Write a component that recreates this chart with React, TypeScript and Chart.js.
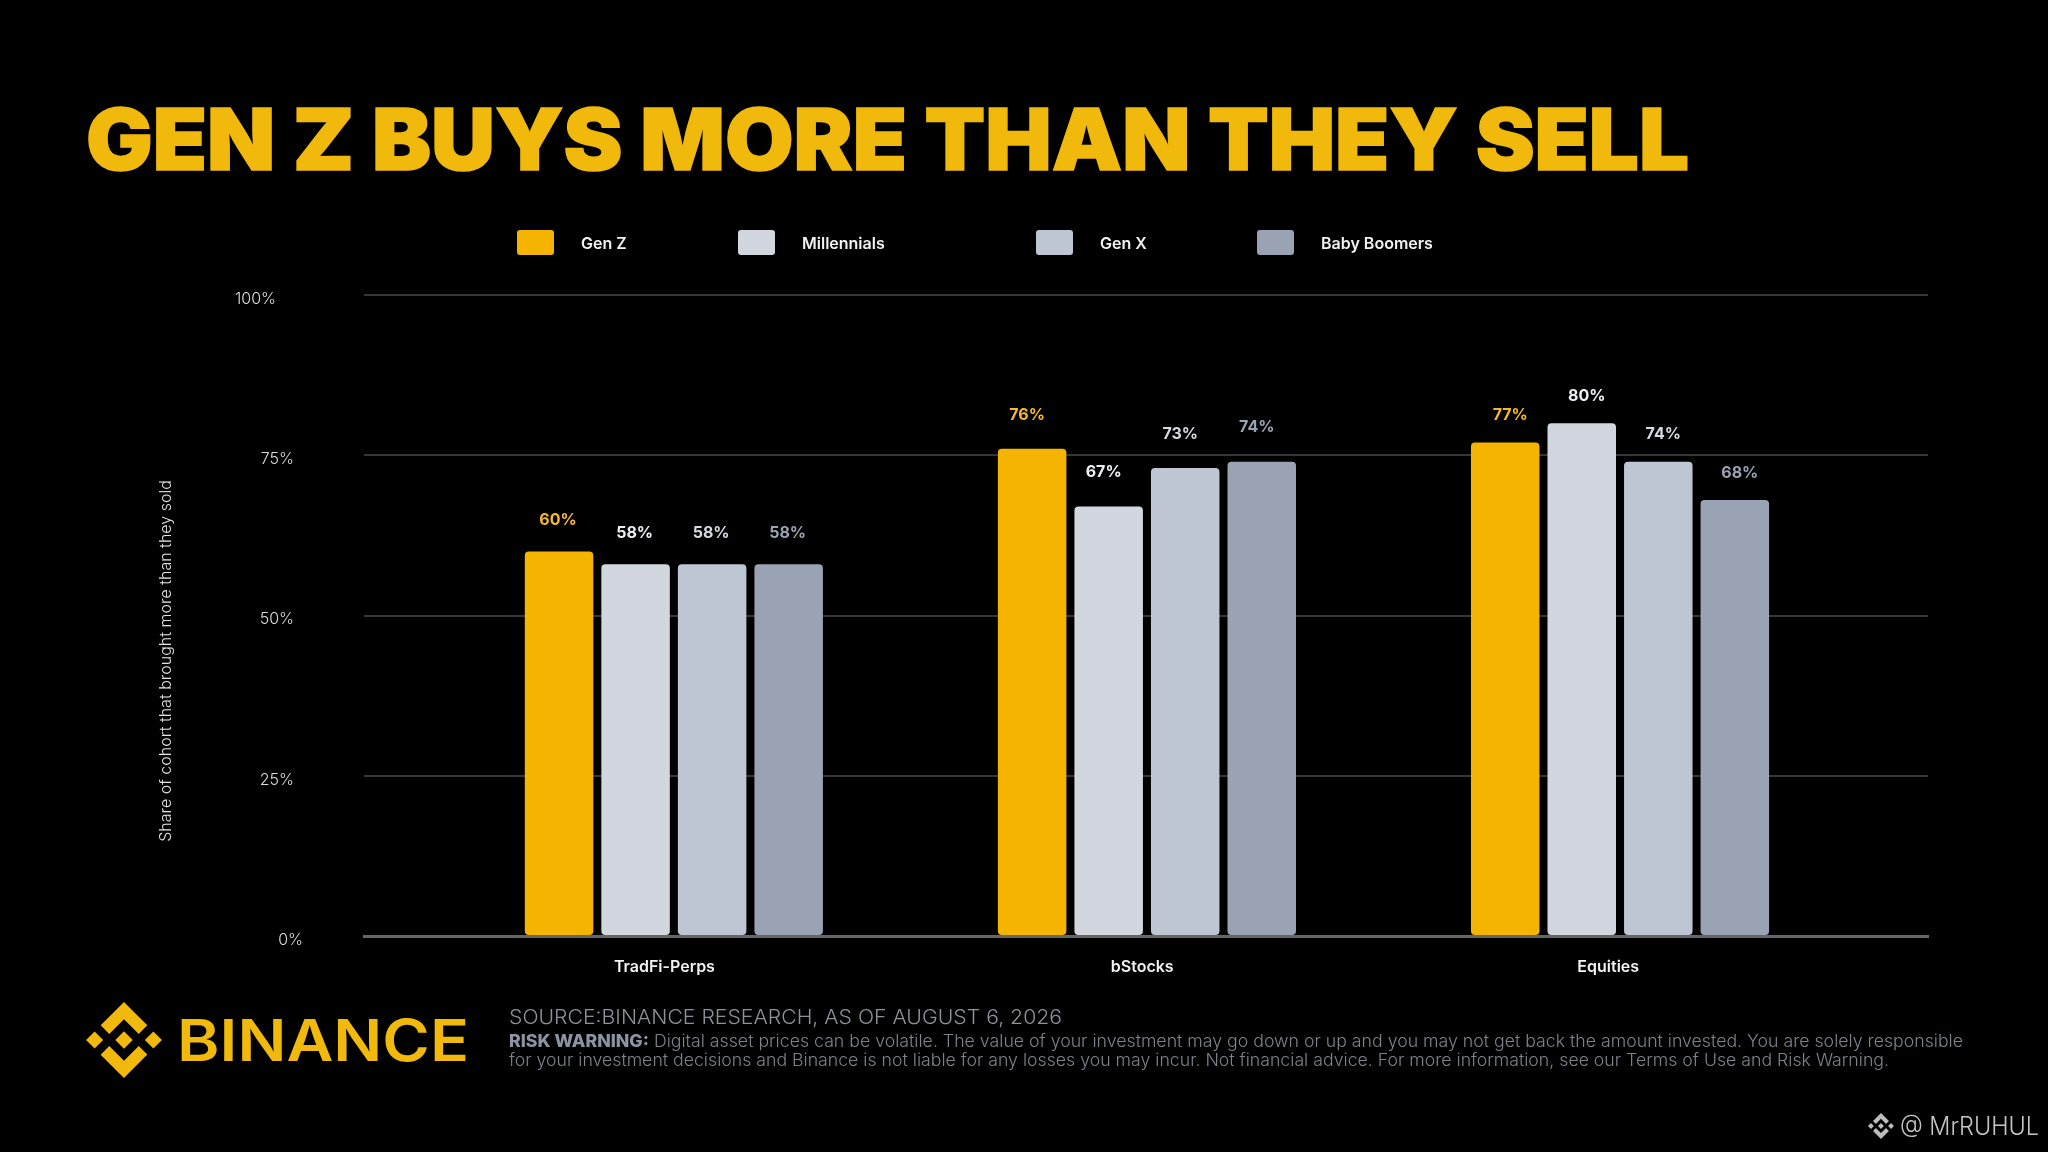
import React, { useEffect, useRef } from "react";
import { Chart, Plugin, registerables } from "chart.js";

Chart.register(...registerables);

const categories = ["TradFi-Perps", "bStocks", "Equities"];
const seriesNames = ["Gen Z", "Millennials", "Gen X", "Baby Boomers"];
const seriesColours = ["#F5B400", "#D1D6DF", "#BEC6D4", "#9AA3B4"];
const labelColours = ["#F5B82E", "#EEF0F4", "#D5DAE3", "#9AA3B4"];

const genZ = [60, 76, 77];
const millennials = [58, 67, 80];
const genX = [58, 73, 74];
const babyBoomers = [58, 74, 68];
const seriesValues = [genZ, millennials, genX, babyBoomers];

const yTicks = [0, 25, 50, 75, 100];
const legendX = [517, 738, 1036, 1257];
// the value labels drift a little from their bars, per group
const labelShiftX = [-1, -5, 5];
const labelShiftY = [0, -3, 4];

const BODY_FONT = "Inter, 'Open Sans', sans-serif";
const LOGO_PATH =
  "M38.73 53.2 63.31 28.62 87.9 53.21 102.2 38.91 63.31 0 24.42 38.9ZM0 63.31 14.3 49 28.6 63.31 14.3 77.61ZM38.73 73.41 63.31 97.99 87.89 73.4 102.2 87.7 63.31 126.61 24.41 87.71ZM98.01 63.31 112.31 49 126.61 63.31 112.31 77.61ZM63.31 48.8 77.82 63.31 63.31 77.81 48.8 63.31Z";

// value labels above each bar
const valueLabels: Plugin<"bar"> = {
  id: "valueLabels",
  afterDatasetsDraw(chart) {
    const { ctx } = chart;
    ctx.save();
    ctx.font = `700 16px ${BODY_FONT}`;
    ctx.textAlign = "center";
    ctx.textBaseline = "middle";
    chart.data.datasets.forEach((_, i) => {
      ctx.fillStyle = labelColours[i];
      chart.getDatasetMeta(i).data.forEach((bar, j) => {
        ctx.fillText(
          `${seriesValues[i][j]}%`,
          bar.x + labelShiftX[j],
          bar.y - 31 + labelShiftY[j]
        );
      });
    });
    ctx.restore();
  },
};

// axis title sits lower than the middle of the axis in the original
const yAxisTitle: Plugin<"bar"> = {
  id: "yAxisTitle",
  afterDraw(chart) {
    const { ctx } = chart;
    ctx.save();
    ctx.translate(166, chart.chartArea.bottom - 275);
    ctx.rotate(-Math.PI / 2);
    ctx.font = `300 16px ${BODY_FONT}`;
    ctx.fillStyle = "#E4E4E4";
    ctx.textAlign = "center";
    ctx.textBaseline = "middle";
    ctx.fillText("Share of cohort that brought more than they sold", 0, 0);
    ctx.restore();
  },
};

const ChartCanvas: React.FC = () => {
  const chartRef = useRef<HTMLCanvasElement | null>(null);

  useEffect(() => {
    if (!chartRef.current) return;
    const chart = new Chart(chartRef.current, {
      type: "bar",
      data: {
        datasets: seriesNames.map((name, i) => ({
          label: name,
          data: seriesValues[i].map((y, x) => ({ x, y })),
          backgroundColor: seriesColours[i],
          borderRadius: 4,
          borderSkipped: false,
          categoryPercentage: 0.657,
          barPercentage: 0.895,
        })),
      },
      plugins: [valueLabels, yAxisTitle],
      options: {
        animation: false,
        responsive: false,
        devicePixelRatio: 1,
        layout: { padding: { top: 295, left: 150, right: 120, bottom: 0 } },
        plugins: { legend: { display: false }, tooltip: { enabled: false } },
        scales: {
          x: {
            type: "linear",
            offset: false,
            min: -0.655,
            max: 2.651,
            afterFit: (scale) => {
              scale.height = 216;
            },
            afterBuildTicks: (scale) => {
              // category names sit a little left of the group centres
              scale.ticks = [{ value: -0.02 }, { value: 0.99 }, { value: 1.975 }];
            },
            grid: { display: false, drawTicks: false, offset: false },
            border: { color: "#666666", width: 3 },
            ticks: {
              padding: 22,
              maxRotation: 0,
              autoSkip: false,
              color: "#F2F2F2",
              font: { family: BODY_FONT, size: 16, weight: 600 },
              callback: (_, i) => categories[i],
            },
          },
          y: {
            min: 0,
            max: 100,
            afterFit: (scale) => {
              scale.width = 214;
            },
            afterBuildTicks: (scale) => {
              scale.ticks = yTicks.map((value) => ({ value }));
            },
            grid: {
              drawTicks: false,
              lineWidth: 2,
              color: (c) => (c.tick.value === 0 ? "transparent" : "#363636"),
            },
            border: { display: false },
            ticks: {
              padding: 61,
              labelOffset: 4,
              autoSkip: false,
              color: "#DDDDDD",
              font: { family: BODY_FONT, size: 16, weight: 300 },
              // trailing spaces keep the uneven label edges of the original
              callback: (v) =>
                `${v}%` + "\u00a0".repeat(v === 100 ? 6 : v === 0 ? 0 : 2),
            },
          },
        },
      },
    });
    return () => chart.destroy();
  }, []);

  return (
    <canvas
      ref={chartRef}
      width={2048}
      height={1152}
      style={{ display: "block", position: "absolute", left: 0, top: 0 }}
    />
  );
};

export default function App() {
  return (
    <div
      style={{
        position: "absolute",
        left: 0,
        top: 0,
        width: 2048,
        height: 1152,
        background: "#000",
        overflow: "hidden",
      }}
    >
      <ChartCanvas />
      <svg
        width={2048}
        height={1152}
        style={{ position: "absolute", left: 0, top: 0 }}
        fontFamily={BODY_FONT}
      >
        <text
          x={86}
          y={170}
          fontSize={85}
          fontWeight={900}
          fill="#F0B90B"
          stroke="#F0B90B"
          strokeWidth={1.5}
          textLength={1603}
          lengthAdjust="spacingAndGlyphs"
        >
          GEN Z BUYS MORE THAN THEY SELL
        </text>

        {seriesNames.map((name, i) => (
          <g key={name}>
            <rect
              x={legendX[i]}
              y={230}
              width={37}
              height={25}
              rx={3}
              fill={seriesColours[i]}
            />
            <text
              x={legendX[i] + 64}
              y={249}
              fontSize={16}
              fontWeight={600}
              fill="#F2F2F2"
            >
              {name}
            </text>
          </g>
        ))}

        <path
          d={LOGO_PATH}
          fill="#F0B90B"
          transform="translate(86 1002) scale(0.6)"
        />
        <text
          x={177}
          y={1061}
          fontSize={58}
          fontWeight={600}
          fill="#F0B90B"
          textLength={292}
          lengthAdjust="spacingAndGlyphs"
        >
          BINANCE
        </text>

        <text
          x={509}
          y={1024}
          fontSize={20}
          fontWeight={300}
          fill="#8E929B"
          textLength={553}
          lengthAdjust="spacingAndGlyphs"
        >
          SOURCE:BINANCE RESEARCH, AS OF AUGUST 6, 2026
        </text>
        <text
          x={509}
          y={1047}
          fontSize={17}
          fontWeight={300}
          fill="#7E828B"
          textLength={1454}
          lengthAdjust="spacingAndGlyphs"
        >
          <tspan fontWeight={800} fill="#8C93A3">
            RISK WARNING:
          </tspan>{" "}
          Digital asset prices can be volatile. The value of your investment may
          go down or up and you may not get back the amount invested. You are
          solely responsible
        </text>
        <text
          x={509}
          y={1066}
          fontSize={17}
          fontWeight={300}
          fill="#7E828B"
          textLength={1380}
          lengthAdjust="spacingAndGlyphs"
        >
          for your investment decisions and Binance is not liable for any losses
          you may incur. Not financial advice. For more information, see our
          Terms of Use and Risk Warning.
        </text>

        <path
          d={LOGO_PATH}
          fill="#BDBDBD"
          transform="translate(1868 1113) scale(0.205)"
        />
        <text
          x={1900}
          y={1135}
          fontSize={25}
          fontWeight={300}
          fill="#C4C4C4"
          textLength={139}
          lengthAdjust="spacingAndGlyphs"
        >
          @ MrRUHUL
        </text>
      </svg>
    </div>
  );
}
